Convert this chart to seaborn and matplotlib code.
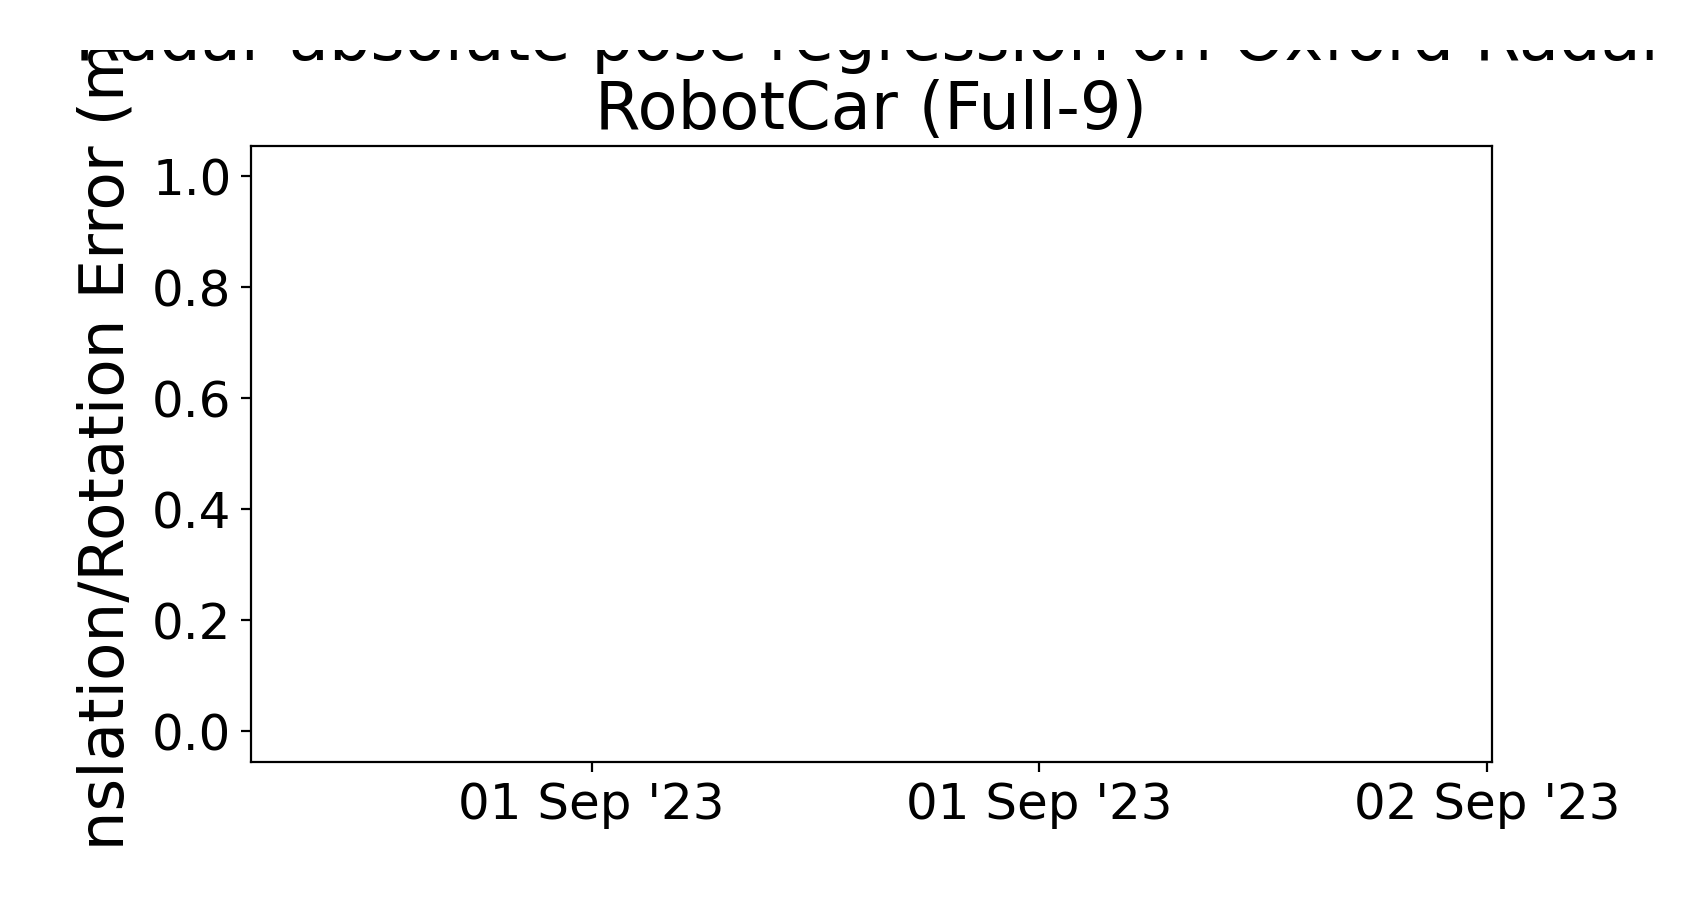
import matplotlib
matplotlib.use("Agg")
import matplotlib.pyplot as plt
import matplotlib.dates as mdates
from matplotlib.transforms import Bbox
import numpy as np
import pandas as pd
import seaborn as sns

# empty result: no error values were logged for this run
timestamps = pd.to_datetime(["2023-09-01 00:00", "2023-09-01 12:00", "2023-09-02 00:00"])
trans_rot_error = [np.nan, np.nan, np.nan]
tick_dates = pd.to_datetime(["2023-09-01 00:00", "2023-09-01 12:00", "2023-09-02 00:00"])
x_limits = pd.to_datetime(["2023-08-31 14:52", "2023-09-02 00:08"])
y_limits = [-0.055, 1.055]

title = "Radar absolute pose regression on Oxford Radar\nRobotCar (Full-9)"
ylabel = "Translation/Rotation Error (m/°)"

sns.set_style("ticks", {"axes.edgecolor": "black", "xtick.color": "black",
                        "ytick.color": "black", "text.color": "black",
                        "axes.labelcolor": "black"})
plt.rcParams['font.family'] = ['DejaVu Sans']

df = pd.DataFrame({"time": timestamps, "error": trans_rot_error})

fig, ax = plt.subplots(figsize=(8.5, 4.5), dpi=200)
fig.subplots_adjust(left=0.1476, right=0.8776, top=0.8383, bottom=0.1533)

sns.lineplot(data=df, x="time", y="error", ax=ax)
ax.set_xlim(x_limits[0], x_limits[1])
ax.set_ylim(y_limits)
ax.set_xticks(tick_dates)
ax.xaxis.set_major_formatter(mdates.DateFormatter("%d %b '%y"))
ax.set_yticks([0.0, 0.2, 0.4, 0.6, 0.8, 1.0])
ax.tick_params(labelsize=18, width=0.8, length=3.5)
for s in ax.spines.values():
    s.set_linewidth(0.8)

ax.set_xlabel("")
t = ax.set_title(title, fontsize=23.6, linespacing=1.1, pad=6)
yl = ax.set_ylabel(ylabel, fontsize=22.6, labelpad=5.6)

# the original image only shows the band between y=50 and y=850
band = Bbox.from_extents(0, 50, 1700, 850)
for txt in (t, yl):
    txt.set_clip_box(band)
    txt.set_clip_on(True)

fig.savefig("out.png", dpi=200)
